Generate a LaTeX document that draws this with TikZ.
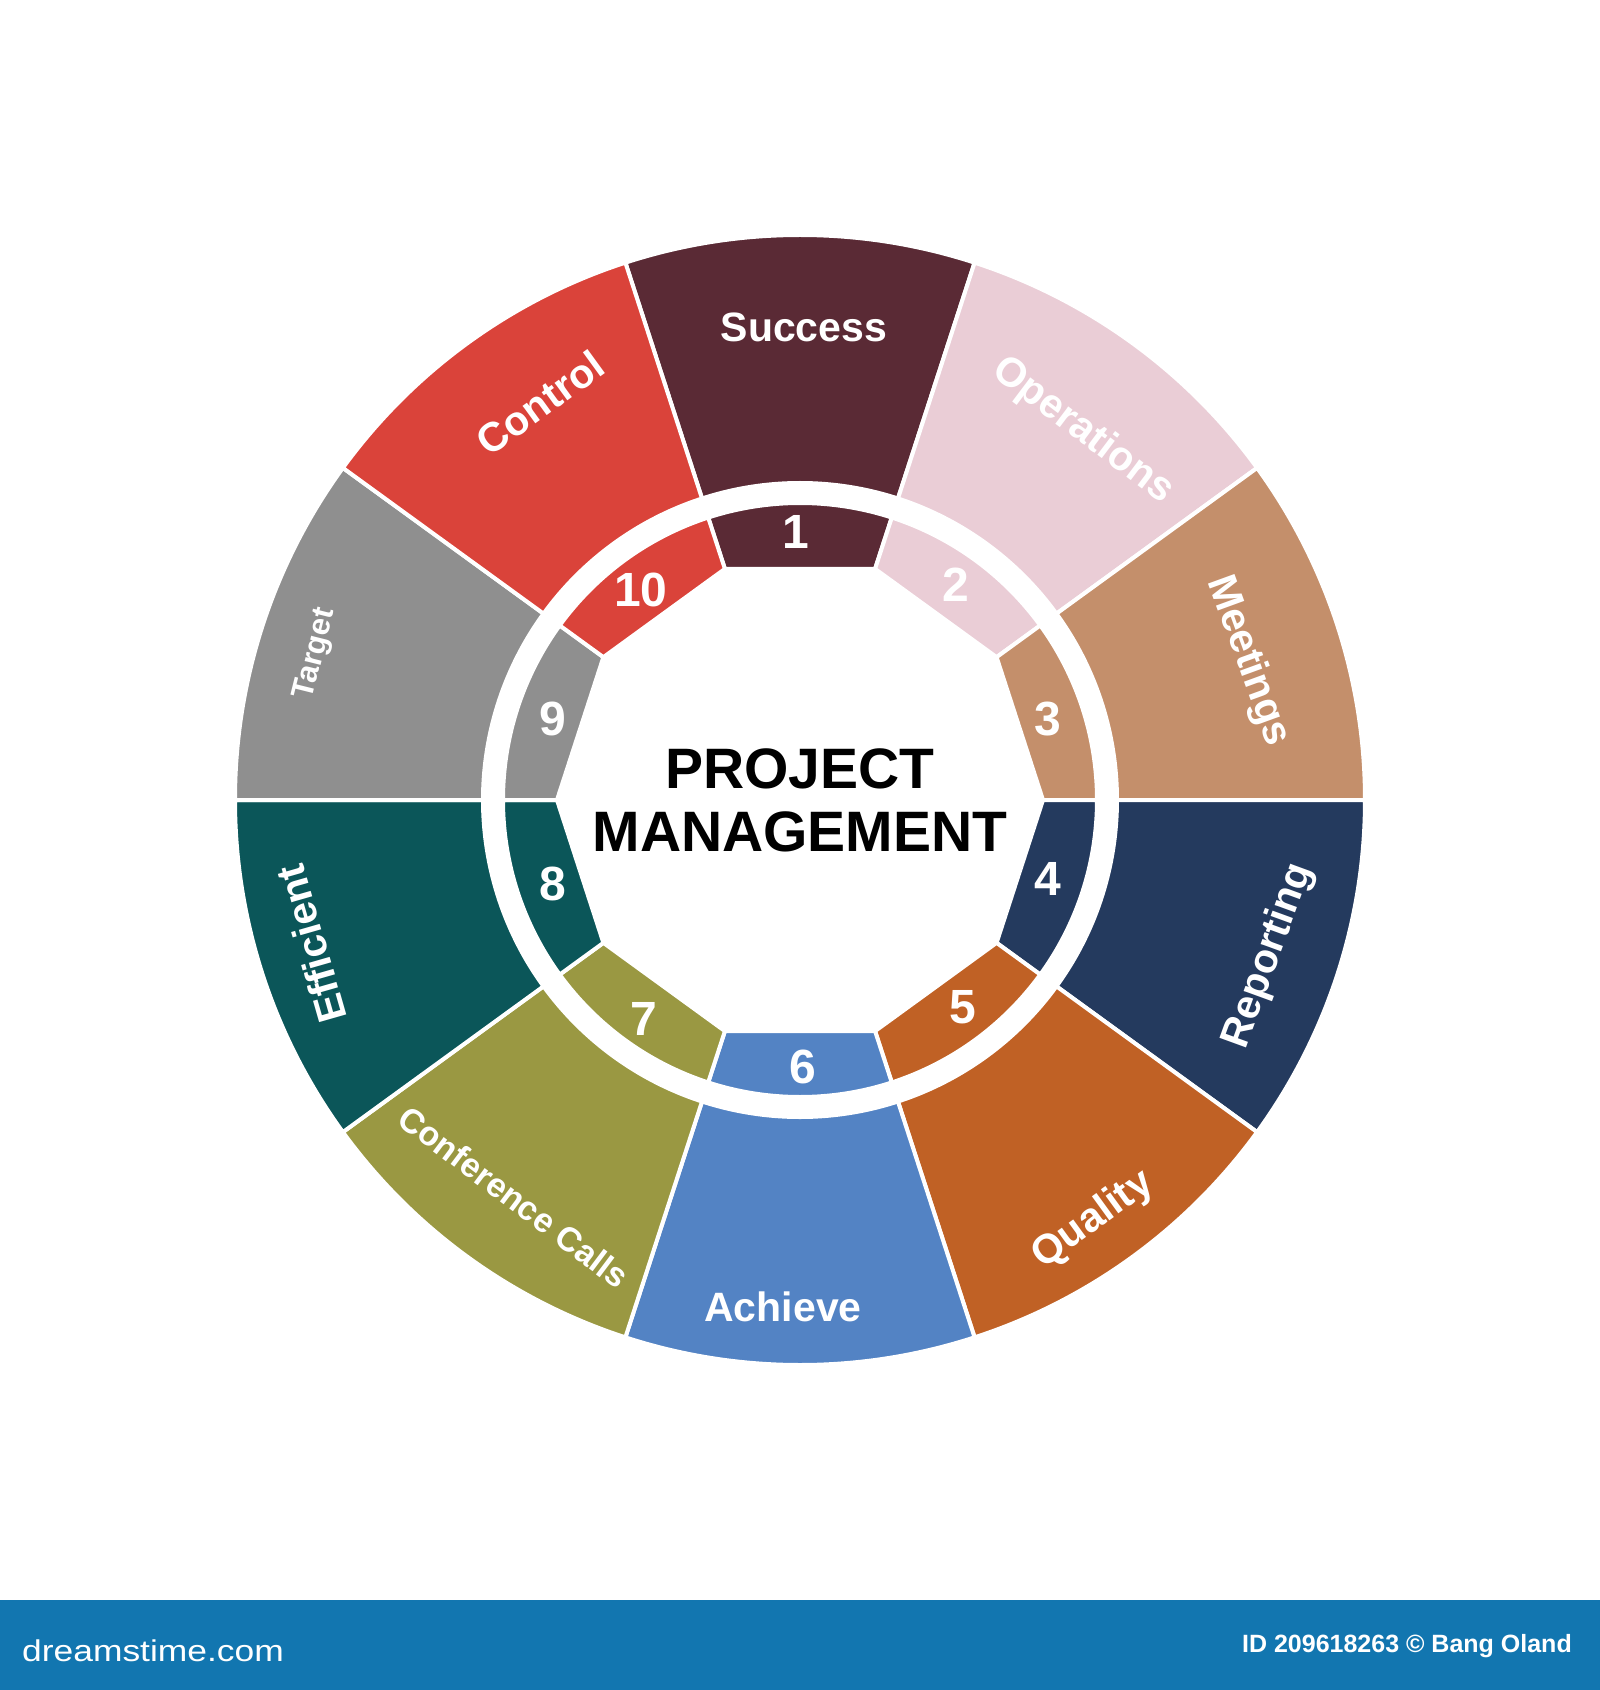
\documentclass[tikz,border=0pt]{standalone}
\usepackage{fontspec}
\setmainfont{Liberation Sans}
\definecolor{cA}{HTML}{5A2A35}
\definecolor{cB}{HTML}{EACDD6}
\definecolor{cC}{HTML}{C48F6B}
\definecolor{cD}{HTML}{243A5E}
\definecolor{cE}{HTML}{C06125}
\definecolor{cF}{HTML}{5383C4}
\definecolor{cG}{HTML}{9A9842}
\definecolor{cH}{HTML}{0B5659}
\definecolor{cI}{HTML}{8F8F8F}
\definecolor{cJ}{HTML}{DA433A}
\definecolor{barblue}{HTML}{1276B0}
\begin{document}
\begin{tikzpicture}[x=1pt,y=1pt,
  seg/.style={draw=white, line width=4pt, line join=miter},
  lbl/.style={text=white, font=\bfseries\fontsize{41}{49}\selectfont, inner sep=0pt},
  num/.style={text=white, font=\bfseries\fontsize{48}{56}\selectfont, inner sep=0pt},
  title/.style={text=black, font=\bfseries\fontsize{57}{63}\selectfont, align=center, inner sep=0pt}]
\useasboundingbox (-800,-890) rectangle (800,800);
\fill[white] (-800,-890) rectangle (800,800);
\foreach \a/\col in {90/cA,54/cB,18/cC,-18/cD,-54/cE,-90/cF,-126/cG,-162/cH,162/cI,126/cJ}{
  \pgfmathsetmacro\s{\a-18}
  \pgfmathsetmacro\e{\a+18}
  \filldraw[seg, fill=\col] (\s:317pt) -- (\s:565pt) arc[start angle=\s, end angle=\e, radius=565pt] -- (\e:317pt) arc[start angle=\e, end angle=\s, radius=317pt] -- cycle;
  \filldraw[seg, fill=\col] (\s:243pt) -- (\s:297pt) arc[start angle=\s, end angle=\e, radius=297pt] -- (\e:243pt) -- cycle;
}
% outer labels
\node[lbl] (success) at (4,473) {Success};
\node[lbl, rotate=-37] (operations) at (283,369) {Operations};
\node[lbl, rotate=-70] (meetings) at (448,139) {Meetings};
\node[lbl, rotate=70] (reporting) at (469,-156) {Reporting};
\node[lbl, rotate=36] (quality) at (293,-420) {Quality};
\node[lbl] (achieve) at (-17,-507) {Achieve};
\node[lbl, rotate=-37, font=\bfseries\fontsize{34}{40}\selectfont] (conference) at (-286,-397) {Conference Calls};
\node[lbl, rotate=106] (efficient) at (-489,-144) {Efficient};
\node[lbl, rotate=76, font=\bfseries\fontsize{31}{36}\selectfont] (target) at (-484,146) {Target};
\node[lbl, rotate=36] (control) at (-260,397) {Control};
% numbers
\node[num] (n1) at (-4,268) {1};
\node[num] (n2) at (156,215) {2};
\node[num] (n3) at (248,81) {3};
\node[num] (n4) at (248,-79) {4};
\node[num] (n5) at (163,-207) {5};
\node[num] (n6) at (3,-267) {6};
\node[num] (n7) at (-156,-219) {7};
\node[num] (n8) at (-247,-84) {8};
\node[num] (n9) at (-247,81) {9};
\node[num] (n10) at (-159,210) {10};
% title
\node[title] (pm) at (0,0) {PROJECT\\MANAGEMENT};
% bottom bar
\fill[barblue] (-800,-890) rectangle (800,-800);
\node[anchor=west, text=white, inner sep=0pt, font=\fontsize{30}{36}\selectfont] (logo) at (-778,-851) {\scalebox{1.18}[1]{dreamstime.com}};
\node[anchor=east, text=white, inner sep=0pt, font=\bfseries\fontsize{25}{30}\selectfont] (credit) at (772,-846) {ID 209618263 © Bang Oland};
\end{tikzpicture}
\end{document}
